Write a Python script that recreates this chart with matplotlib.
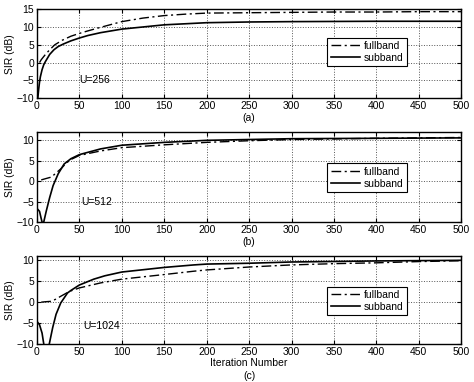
import matplotlib
matplotlib.use("Agg")
import matplotlib.pyplot as plt

plt.rcParams["font.family"] = ["Liberation Sans", "DejaVu Sans"]

# (a) U=256
a_full_x = [3, 5, 10, 15, 21, 30, 40, 50, 60, 75, 100, 125, 150, 175, 200, 250, 300, 350, 400, 450, 500]
a_full_y = [0.0, 0.8, 2.3, 3.6, 5.0, 6.3, 7.4, 8.2, 8.9, 9.9, 11.5, 12.5, 13.2, 13.6, 13.9, 14.0, 14.1, 14.2, 14.2, 14.3, 14.3]
a_sub_x = [1, 2, 3, 4, 6, 8, 10, 15, 20, 25, 31, 40, 50, 60, 75, 100, 125, 150, 175, 200, 250, 300, 400, 500]
a_sub_y = [-10, -7.5, -5.5, -4.0, -2.0, -0.6, 0.3, 2.3, 3.6, 4.5, 5.2, 6.1, 6.9, 7.6, 8.4, 9.4, 10.0, 10.6, 10.9, 11.2, 11.4, 11.5, 11.6, 11.6]

# (b) U=512
b_full_x = [5, 10, 17, 22, 28, 35, 40, 50, 75, 100, 150, 200, 250, 300, 400, 500]
b_full_y = [0.3, 0.6, 1.0, 1.9, 3.0, 4.5, 5.3, 6.3, 7.4, 8.2, 8.9, 9.5, 9.9, 10.2, 10.5, 10.7]
b_sub_left_x = [0, 3, 5, 6]
b_sub_left_y = [-6.7, -7.4, -9.2, -10]
b_sub_x = [8, 11, 15, 19, 25, 32, 40, 50, 75, 100, 150, 200, 250, 300, 400, 500]
b_sub_y = [-10, -7.3, -4.0, -1.1, 1.8, 4.2, 5.5, 6.5, 7.9, 8.8, 9.5, 10.0, 10.2, 10.4, 10.5, 10.6]

# (c) U=1024
c_full_x = [5, 10, 17, 22, 28, 35, 40, 50, 75, 100, 150, 185, 200, 250, 300, 350, 400, 450, 500]
c_full_y = [0.0, 0.1, 0.2, 0.7, 1.4, 2.2, 2.7, 3.4, 4.6, 5.5, 6.6, 7.4, 7.7, 8.4, 8.9, 9.2, 9.4, 9.7, 9.9]
c_sub_left_x = [0, 3, 6, 8]
c_sub_left_y = [-4.6, -5.4, -7.4, -10]
c_sub_x = [14.5, 18.5, 22.5, 28, 36, 40, 50, 67, 80, 100, 150, 185, 200, 250, 300, 400, 500]
c_sub_y = [-10, -6.1, -2.9, -0.2, 2.2, 2.8, 4.1, 5.5, 6.3, 7.2, 8.3, 8.9, 9.1, 9.3, 9.6, 9.85, 10.0]

labels = ["U=256", "U=512", "U=1024"]
captions = ["(a)", "(b)", "(c)"]
label_pos = [(50, -5.0), (52, -5.0), (55, -5.6)]
ylims = [(-10, 15), (-10, 12), (-10, 11)]
yticks = [[-10, -5, 0, 5, 10, 15], [-10, -5, 0, 5, 10], [-10, -5, 0, 5, 10]]
legend_top = [0.74, 0.71, 0.71]
caption_y = [-0.225, -0.225, -0.365]

panels = [
    (a_full_x, a_full_y, [(a_sub_x, a_sub_y)]),
    (b_full_x, b_full_y, [(b_sub_left_x, b_sub_left_y), (b_sub_x, b_sub_y)]),
    (c_full_x, c_full_y, [(c_sub_left_x, c_sub_left_y), (c_sub_x, c_sub_y)]),
]

fig = plt.figure(figsize=(4.74, 3.82), dpi=100)
rects = [
    [0.078, 0.743, 0.895, 0.233],
    [0.078, 0.419, 0.895, 0.235],
    [0.078, 0.0995, 0.895, 0.230],
]
dashdot = (0, (7, 2.5, 1.5, 2.5))

for i, (fx, fy, subs) in enumerate(panels):
    ax = fig.add_axes(rects[i])
    ax.plot(fx, fy, color="black", lw=1.0, ls=dashdot, label="fullband")
    for j, (sx, sy) in enumerate(subs):
        ax.plot(sx, sy, color="black", lw=1.2, ls="-",
                label="subband" if j == len(subs) - 1 else None)
    ax.set_xlim(0, 500)
    ax.set_ylim(*ylims[i])
    ax.set_yticks(yticks[i])
    ax.set_xticks(range(0, 501, 50))
    ax.grid(True, ls=":", color="#555555", lw=0.7)
    ax.tick_params(direction="in", top=True, right=True, labelsize=7.5,
                   length=3, pad=2)
    for s in ax.spines.values():
        s.set_linewidth(1.0)
    ax.set_ylabel("SIR (dB)", fontsize=7.5, labelpad=1)
    ax.text(label_pos[i][0], label_pos[i][1], labels[i], fontsize=7.5,
            va="center", ha="left")
    ax.legend(loc="upper right", bbox_to_anchor=(0.884, legend_top[i]),
              fontsize=7.5, frameon=True, fancybox=False, edgecolor="black",
              framealpha=1, handlelength=2.8, borderpad=0.3,
              labelspacing=0.2, handletextpad=0.4)
    ax.get_legend().get_frame().set_linewidth(0.8)
    if i == 2:
        ax.set_xlabel("Iteration Number", fontsize=7.5, labelpad=1)
    ax.text(0.5, caption_y[i], captions[i], transform=ax.transAxes,
            ha="center", va="center", fontsize=7.5)

fig.savefig("out.png", dpi=100)
